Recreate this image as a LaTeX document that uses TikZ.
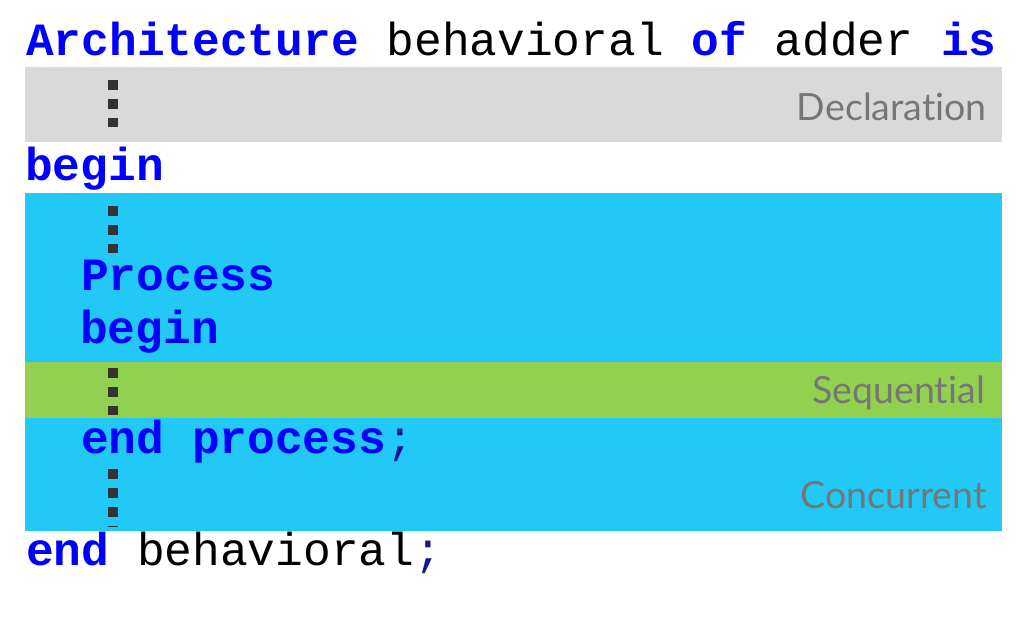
\documentclass[tikz,border=0pt]{standalone}
\usepackage{fontspec}
\usepackage{tikz}
\newfontfamily\codefont{Liberation Mono}
\newfontfamily\labelfont{Lato}[Ligatures=NoCommon]
\definecolor{kwblue}{RGB}{0,0,255}
\definecolor{semiblue}{RGB}{20,20,150}
\definecolor{declgray}{RGB}{217,217,217}
\definecolor{concblue}{RGB}{34,200,246}
\definecolor{seqgreen}{RGB}{146,208,80}
\definecolor{labelgray}{RGB}{118,118,118}
\definecolor{dotgray}{RGB}{51,51,51}
\newcommand{\kw}[1]{{\bfseries\color{kwblue}#1}}
\newcommand{\semi}{{\color{semiblue};}}
\tikzstyle{code} = [anchor=base west, inner sep=0pt,
    font=\codefont\fontsize{46.2}{50}\selectfont]
\tikzstyle{tag} = [anchor=base east, inner sep=0pt, text=labelgray,
    font=\labelfont\fontsize{37.5}{40}\selectfont]

\begin{document}
\begin{tikzpicture}[
x=1pt, y=-1pt,
band/.style = {draw=none},
vdots/.style = {draw=dotgray, line width=10pt, dash pattern=on 10pt off 9pt}
                        ]
\useasboundingbox (0,0) rectangle (1024,619);
\fill[band, declgray] (25,67) rectangle (1002,142);
\fill[band, concblue] (25,193) rectangle (1002,531);
\fill[band, seqgreen] (25,362) rectangle (1002,418);
\draw[vdots] (113,80) -- (113,127);
\draw[vdots] (113,206) -- (113,253);
\draw[vdots] (113,368) -- (113,415);
\draw[vdots] (113,469) -- (113,527);
\node [code] (head) at (26,55) {\kw{Architecture} behavioral \kw{of} adder \kw{is}};
\node [code] (begin) at (25,180) {\kw{begin}};
\node [code] (proc) at (81,290) {\kw{Process}};
\node [code] (pbegin) at (80,343) {\kw{begin}};
\node [code] (pend) at (81,453) {\kw{end process}\semi};
\node [code] (tail) at (26,565) {\kw{end} behavioral\semi};
\node [tag] (decl) at (987,120) {Declaration};
\node [tag] (seq) at (985,403) {Sequential};
\node [tag] (conc) at (987,508) {Concurrent};
\end{tikzpicture}
\end{document}
